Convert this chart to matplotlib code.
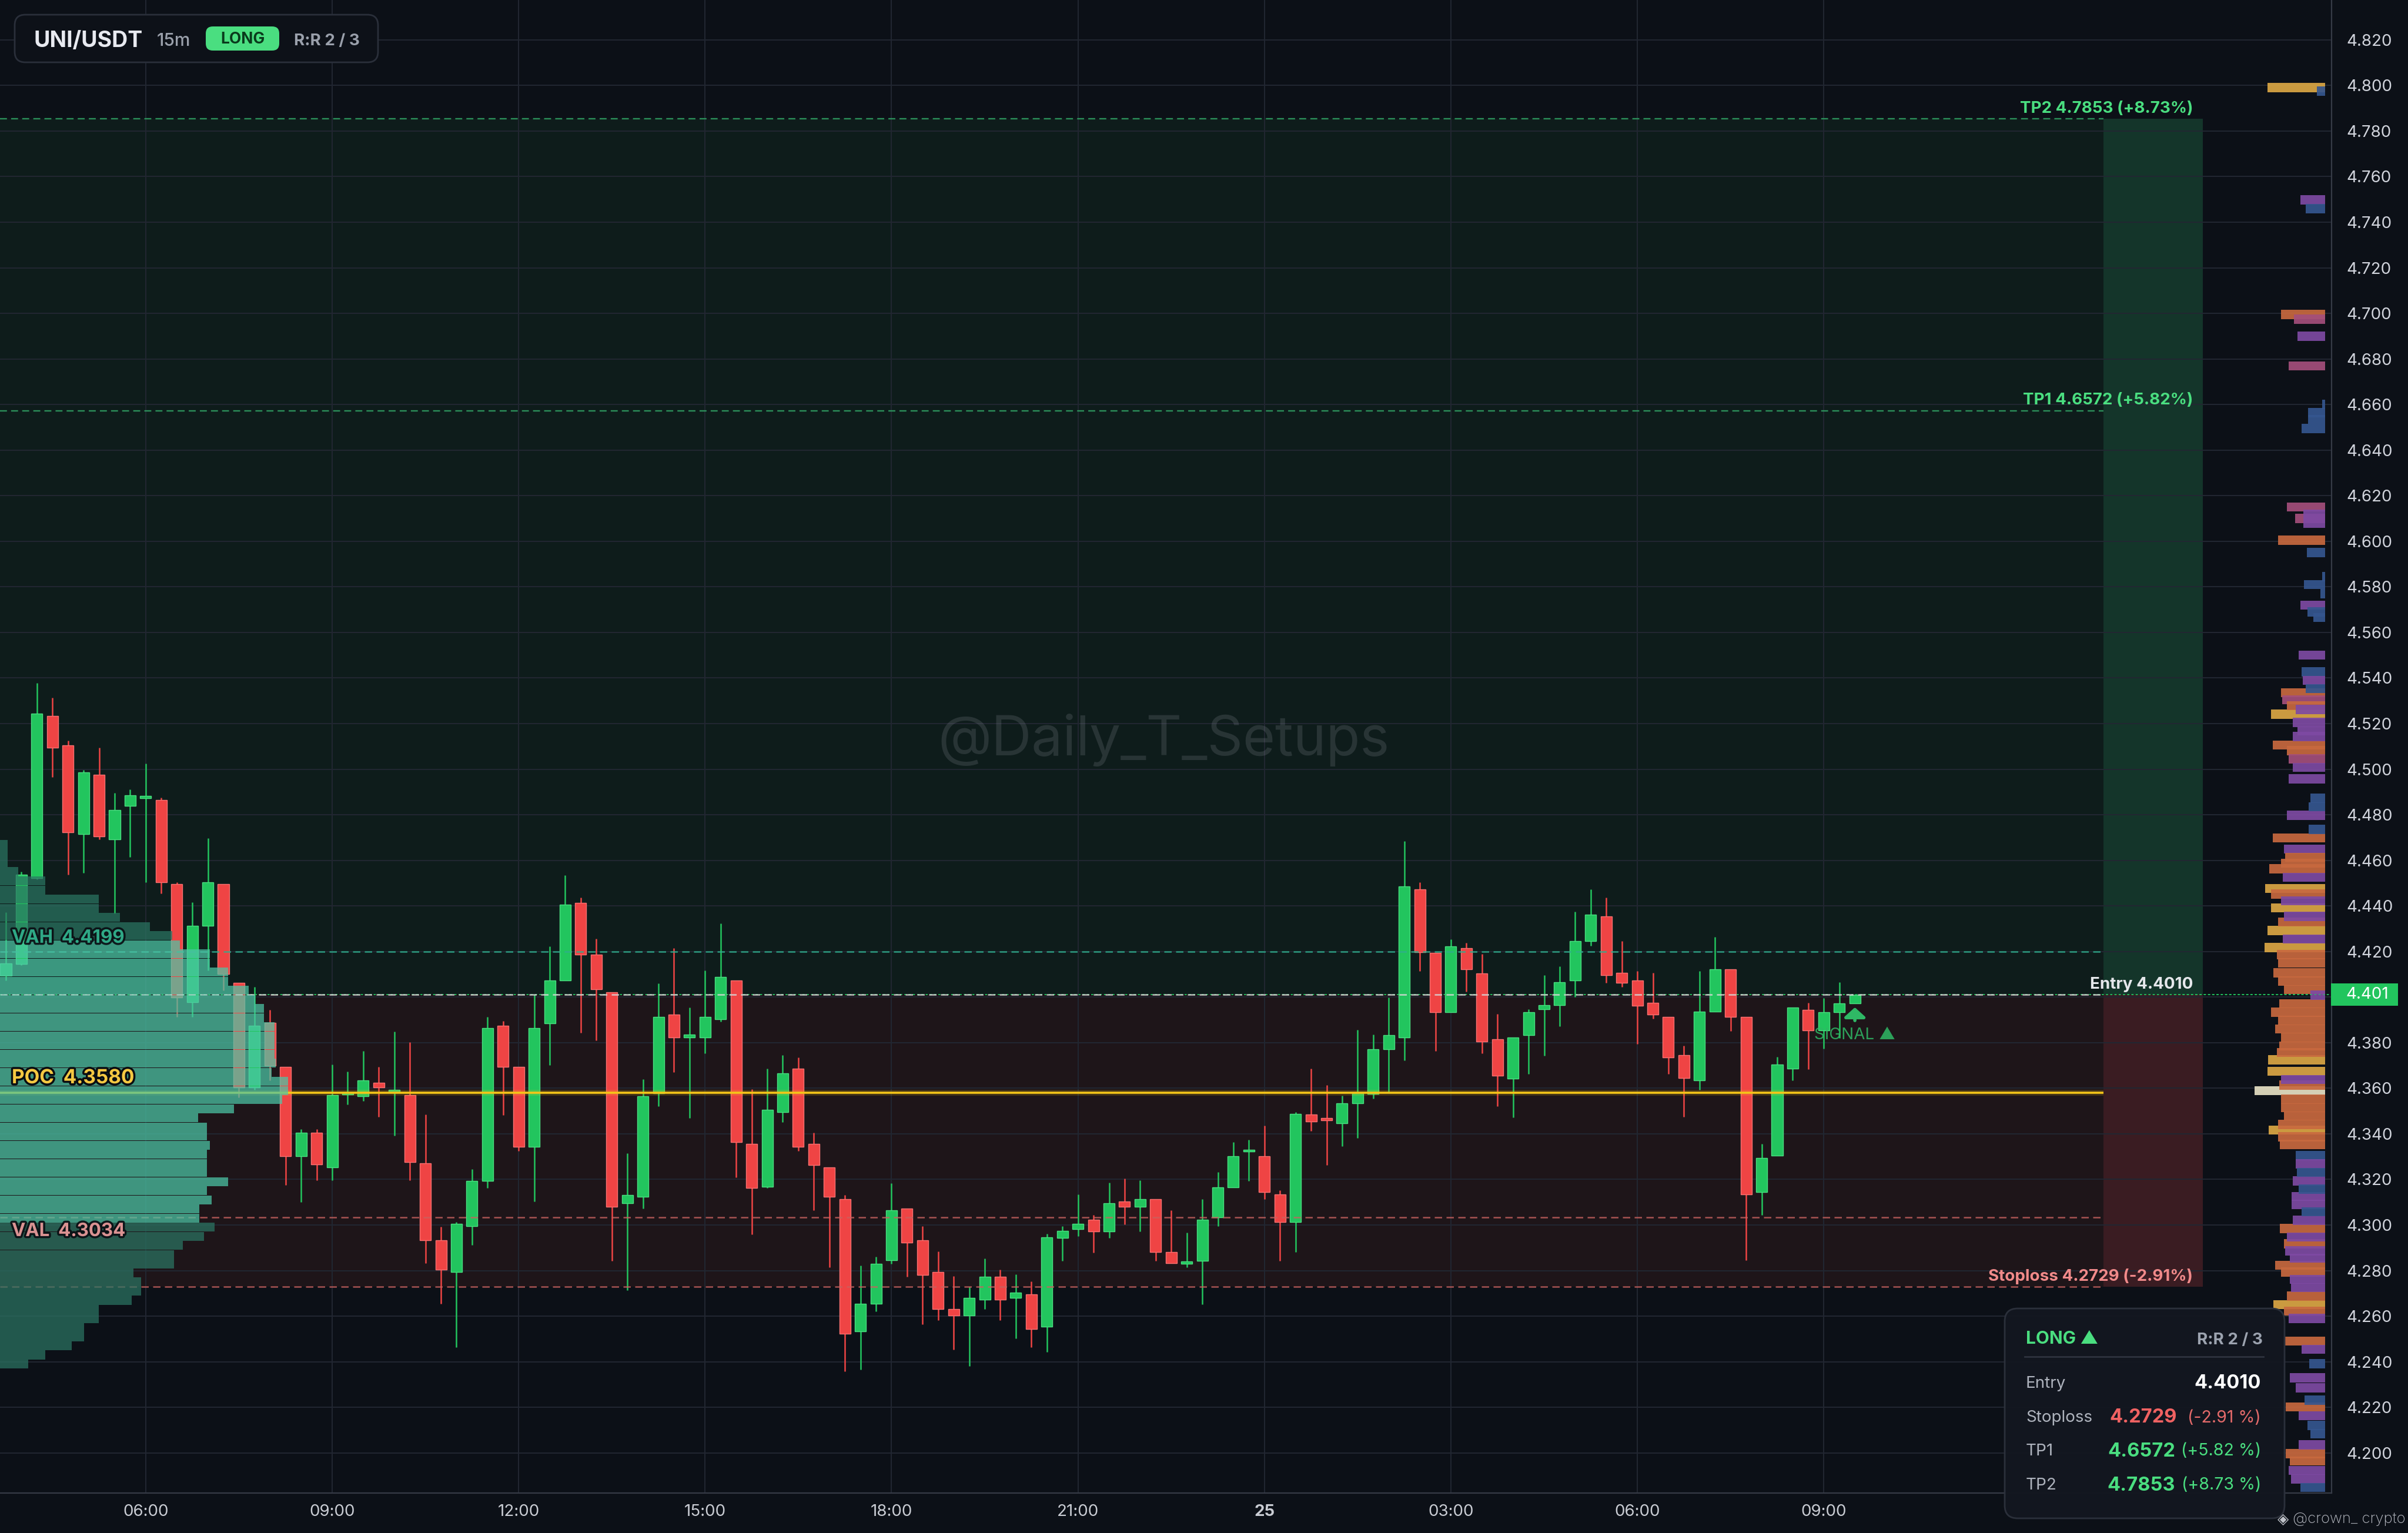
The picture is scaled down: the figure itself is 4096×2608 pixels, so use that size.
import numpy as np
import matplotlib
matplotlib.use('Agg')
import matplotlib.pyplot as plt
from matplotlib.patches import FancyBboxPatch, Rectangle
import matplotlib.patheffects as pe

plt.rcParams['font.family'] = ['Inter', 'DejaVu Sans']

# ---------------- data ----------------
opens = [4.4094, 4.4144, 4.4522, 4.5234, 4.5104, 4.4715, 4.4976, 4.4693, 4.4839, 4.4873,
         4.4864, 4.4497, 4.3977, 4.4313, 4.4497, 4.4062, 4.3603, 4.3887, 4.3695, 4.3303,
         4.3406, 4.3254, 4.3573, 4.3566, 4.3624, 4.3585, 4.3571, 4.3271, 4.2933, 4.2794,
         4.2994, 4.3194, 4.3874, 4.3694, 4.3342, 4.3885, 4.4074, 4.4413, 4.4186, 4.4022,
         4.3095, 4.3124, 4.3577, 4.3924, 4.3822, 4.3822, 4.3902, 4.4074, 4.3355, 4.3167,
         4.3494, 4.3686, 4.3355, 4.3253, 4.3113, 4.2533, 4.2655, 4.2845, 4.3073, 4.2934,
         4.2793, 4.2632, 4.2603, 4.2672, 4.2773, 4.2681, 4.2695, 4.2553, 4.2943, 4.2981,
         4.3023, 4.2971, 4.3104, 4.3081, 4.3113, 4.2882, 4.2831, 4.2843, 4.3033, 4.3164,
         4.3322, 4.3303, 4.3133, 4.3014, 4.3485, 4.3464, 4.3445, 4.3534, 4.3576, 4.3771,
         4.3823, 4.4472, 4.4195, 4.3935, 4.4214, 4.4104, 4.3814, 4.3643, 4.3834, 4.3946,
         4.3964, 4.4073, 4.4245, 4.4354, 4.4106, 4.4073, 4.3974, 4.3913, 4.3746, 4.3635,
         4.3936, 4.4123, 4.3913, 4.3144, 4.3305, 4.3685, 4.3944, 4.3853, 4.3934, 4.3973]
highs = [4.4372, 4.4550, 4.5378, 4.5313, 4.5125, 4.4997, 4.5095, 4.4896, 4.4911, 4.5025,
         4.4875, 4.4505, 4.4415, 4.4698, 4.4497, 4.4062, 4.4045, 4.3945, 4.3695, 4.3421,
         4.3421, 4.3705, 4.3673, 4.3763, 4.3695, 4.3849, 4.3802, 4.3485, 4.2993, 4.3014,
         4.3245, 4.3913, 4.3894, 4.3694, 4.4010, 4.4222, 4.4535, 4.4436, 4.4257, 4.4022,
         4.3314, 4.3639, 4.4061, 4.4214, 4.3955, 4.4116, 4.4324, 4.4074, 4.3596, 4.3686,
         4.3745, 4.3736, 4.3405, 4.3253, 4.3131, 4.2823, 4.2861, 4.3183, 4.3073, 4.2995,
         4.2883, 4.2776, 4.2730, 4.2853, 4.2804, 4.2784, 4.2753, 4.2962, 4.2994, 4.3133,
         4.3044, 4.3185, 4.3204, 4.3196, 4.3113, 4.3064, 4.2966, 4.3113, 4.3233, 4.3363,
         4.3375, 4.3435, 4.3153, 4.3494, 4.3685, 4.3613, 4.3567, 4.3856, 4.3837, 4.3997,
         4.4685, 4.4505, 4.4195, 4.4254, 4.4238, 4.4188, 4.3925, 4.3823, 4.3946, 4.4096,
         4.4135, 4.4374, 4.4474, 4.4437, 4.4245, 4.4115, 4.4106, 4.3913, 4.3787, 4.4115,
         4.4265, 4.4123, 4.3913, 4.3355, 4.3737, 4.3954, 4.3974, 4.3996, 4.4065, 4.4014]
lows = [4.4073, 4.4140, 4.4516, 4.4965, 4.4537, 4.4544, 4.4693, 4.4366, 4.4614, 4.4505,
        4.4454, 4.3913, 4.3913, 4.4116, 4.4030, 4.3560, 4.3592, 4.3635, 4.3175, 4.3100,
        4.3196, 4.3196, 4.3528, 4.3545, 4.3474, 4.3393, 4.3196, 4.2833, 4.2655, 4.2463,
        4.2913, 4.3163, 4.3483, 4.3324, 4.3103, 4.3702, 4.4074, 4.3843, 4.3811, 4.2842,
        4.2714, 4.3072, 4.3522, 4.3671, 4.3470, 4.3753, 4.3892, 4.3209, 4.2959, 4.3163,
        4.3452, 4.3324, 4.3064, 4.2814, 4.2358, 4.2366, 4.2620, 4.2830, 4.2772, 4.2563,
        4.2583, 4.2453, 4.2381, 4.2632, 4.2582, 4.2503, 4.2463, 4.2444, 4.2843, 4.2952,
        4.2879, 4.2943, 4.3003, 4.2971, 4.2843, 4.2833, 4.2814, 4.2652, 4.2995, 4.3164,
        4.3194, 4.3113, 4.2843, 4.2882, 4.3413, 4.3264, 4.3346, 4.3383, 4.3554, 4.3580,
        4.3722, 4.4113, 4.3764, 4.3935, 4.4024, 4.3754, 4.3521, 4.3472, 4.3662, 4.3744,
        4.3872, 4.4000, 4.4224, 4.4063, 4.4044, 4.3795, 4.3905, 4.3664, 4.3474, 4.3594,
        4.3936, 4.3852, 4.2845, 4.3044, 4.3305, 4.3634, 4.3683, 4.3773, 4.3821, 4.3973]
closes = [4.4148, 4.4537, 4.5245, 4.5095, 4.4723, 4.4986, 4.4704, 4.4822, 4.4886, 4.4875,
          4.4505, 4.3998, 4.4313, 4.4505, 4.4101, 4.3603, 4.3874, 4.3699, 4.3303, 4.3406,
          4.3265, 4.3571, 4.3578, 4.3635, 4.3603, 4.3586, 4.3275, 4.2933, 4.2805, 4.3004,
          4.3194, 4.3863, 4.3694, 4.3342, 4.3863, 4.4074, 4.4405, 4.4186, 4.4035, 4.3081,
          4.3131, 4.3564, 4.3913, 4.3822, 4.3835, 4.3913, 4.4088, 4.3363, 4.3163, 4.3506,
          4.3666, 4.3342, 4.3264, 4.3124, 4.2522, 4.2655, 4.2831, 4.3064, 4.2924, 4.2782,
          4.2632, 4.2603, 4.2681, 4.2773, 4.2672, 4.2703, 4.2543, 4.2945, 4.2974, 4.3004,
          4.2971, 4.3096, 4.3081, 4.3113, 4.2882, 4.2833, 4.2836, 4.3023, 4.3164, 4.3303,
          4.3323, 4.3144, 4.3014, 4.3488, 4.3455, 4.3460, 4.3534, 4.3584, 4.3771, 4.3834,
          4.4485, 4.4196, 4.3935, 4.4222, 4.4122, 4.3804, 4.3655, 4.3823, 4.3934, 4.3964,
          4.4064, 4.4245, 4.4363, 4.4095, 4.4063, 4.3963, 4.3923, 4.3735, 4.3645, 4.3936,
          4.4123, 4.3913, 4.3133, 4.3295, 4.3704, 4.3954, 4.3853, 4.3935, 4.3973, 4.4008]

time_tick_idx = [9, 21, 33, 45, 57, 69, 81, 93, 105, 117]
time_tick_labels = ['06:00', '09:00', '12:00', '15:00', '18:00', '21:00', '25', '03:00', '06:00', '09:00']
price_ticks = [4.200, 4.220, 4.240, 4.260, 4.280, 4.300, 4.320, 4.340, 4.360, 4.380, 4.400,
               4.420, 4.440, 4.460, 4.480, 4.500, 4.520, 4.540, 4.560, 4.580, 4.600, 4.620,
               4.640, 4.660, 4.680, 4.700, 4.720, 4.740, 4.760, 4.780, 4.800, 4.820]

entry = 4.4010
stoploss = 4.2729
tp1 = 4.6572
tp2 = 4.7853
vah = 4.4199
poc = 4.3580
val = 4.3034
last_price = 4.401

# left (session) volume profile
lp_prices = [4.467, 4.463, 4.459, 4.455, 4.451, 4.447, 4.443, 4.439, 4.435, 4.431, 4.427, 4.423,
             4.419, 4.415, 4.411, 4.407, 4.403, 4.399, 4.395, 4.391, 4.387, 4.383, 4.379, 4.375,
             4.371, 4.367, 4.363, 4.359, 4.355, 4.351, 4.347, 4.343, 4.339, 4.335, 4.331, 4.327,
             4.323, 4.319, 4.315, 4.311, 4.307, 4.303, 4.299, 4.295, 4.291, 4.287, 4.283, 4.279,
             4.275, 4.271, 4.267, 4.263, 4.259, 4.255, 4.251, 4.247, 4.243, 4.239]
lp_vol = [13, 13, 13, 31, 77, 77, 168, 168, 204, 255, 293, 306,
          357, 357, 388, 388, 423, 434, 449, 449, 467, 467, 467, 467,
          469, 462, 490, 490, 480, 398, 337, 352, 352, 357, 352, 352,
          352, 388, 352, 360, 339, 339, 365, 347, 311, 296, 296, 227,
          240, 240, 224, 168, 168, 143, 143, 122, 77, 48]

# right (visible range) volume profile
rp_prices = [4.7991, 4.7975, 4.7498, 4.7459, 4.6995, 4.6975, 4.6900, 4.6770, 4.6600, 4.6565,
             4.6535, 4.6495, 4.6150, 4.6120, 4.6100, 4.6080, 4.6005, 4.5950, 4.5845, 4.5810,
             4.5770, 4.5720, 4.5690, 4.5665, 4.5500, 4.5427, 4.5390, 4.5353, 4.5336, 4.5304,
             4.5279, 4.5262, 4.5242, 4.5205, 4.5168, 4.5143, 4.5106, 4.5082, 4.5045, 4.5008,
             4.4958, 4.4872, 4.4835, 4.4798, 4.4736, 4.4699, 4.4650, 4.4613, 4.4588, 4.4563,
             4.4526, 4.4477, 4.4452, 4.4423, 4.4391, 4.4354, 4.4329, 4.4292, 4.4255, 4.4218,
             4.4186, 4.4151, 4.4107, 4.4070, 4.4033, 4.4008, 4.3971, 4.3934, 4.3897, 4.3860,
             4.3823, 4.3786, 4.3757, 4.3725, 4.3675, 4.3638, 4.3614, 4.3589, 4.3552, 4.3515,
             4.3478, 4.3441, 4.3416, 4.3387, 4.3354, 4.3305, 4.3268, 4.3231, 4.3194, 4.3157,
             4.3125, 4.3090, 4.3058, 4.3021, 4.2984, 4.2947, 4.2918, 4.2886, 4.2854, 4.2824,
             4.2794, 4.2762, 4.2725, 4.2688, 4.2651, 4.2622, 4.2590, 4.2491, 4.2454, 4.2392,
             4.2330, 4.2286, 4.2232, 4.2202, 4.2163, 4.2121, 4.2084, 4.2035, 4.1997, 4.1965,
             4.1923, 4.1886, 4.1849]
rp_vol = [98, 14, 42, 33, 75, 53, 47, 62, 5, 29,
          29, 40, 65, 37, 51, 37, 80, 31, 5, 36,
          8, 42, 30, 20, 45, 40, 38, 33, 75, 73,
          65, 50, 92, 55, 47, 55, 89, 65, 62, 55,
          62, 25, 28, 65, 28, 89, 70, 68, 75, 95,
          72, 102, 92, 75, 92, 70, 80, 98, 72, 103,
          82, 80, 88, 80, 70, 25, 78, 92, 80, 85,
          75, 78, 82, 97, 98, 75, 78, 120, 75, 75,
          70, 80, 96, 80, 77, 50, 50, 48, 55, 45,
          57, 57, 40, 55, 77, 65, 70, 68, 60, 85,
          75, 60, 58, 65, 88, 70, 62, 68, 40, 27,
          60, 50, 35, 67, 45, 30, 25, 45, 67, 60,
          62, 58, 42]
rp_kind = ['Y', 'B', 'P', 'B', 'O', 'M', 'P', 'M', 'B', 'B',
           'B', 'B', 'M', 'P', 'M', 'P', 'O', 'B', 'B', 'B',
           'B', 'P', 'B', 'B', 'P', 'B', 'P', 'B', 'O', 'M',
           'O', 'P', 'Y', 'P', 'P', 'P', 'O', 'O', 'M', 'P',
           'P', 'B', 'B', 'P', 'B', 'O', 'P', 'O', 'O', 'O',
           'P', 'Y', 'O', 'P', 'Y', 'P', 'O', 'Y', 'P', 'Y',
           'O', 'O', 'O', 'O', 'O', 'P', 'O', 'O', 'O', 'O',
           'O', 'O', 'O', 'Y', 'Y', 'P', 'O', 'W', 'O', 'O',
           'O', 'O', 'Y', 'O', 'O', 'B', 'P', 'B', 'P', 'B',
           'P', 'P', 'B', 'P', 'O', 'P', 'O', 'P', 'P', 'O',
           'O', 'P', 'P', 'O', 'Y', 'O', 'P', 'O', 'P', 'B',
           'P', 'P', 'B', 'O', 'P', 'B', 'B', 'P', 'O', 'O',
           'P', 'P', 'B']

# ---------------- style ----------------
BG = '#0c1017'
GREEN_ZONE = '#0e1c1b'
RED_ZONE = '#1e1519'
GREEN_BLOCK = '#14352a'
RED_BLOCK = '#3a1c22'
GRID = '#222732'
UP = '#22c55e'
UP_EDGE = '#4ade80'
DN = '#ef4444'
DN_EDGE = '#f87171'
kind_colors = {'O': '#c8693f', 'Y': '#dba744', 'P': '#7e4aa3', 'B': '#35568f',
               'M': '#a44f7c', 'W': '#e6e1c4'}

W, H = 4096, 2608
DPI = 100
fig = plt.figure(figsize=(W / DPI, H / DPI), dpi=DPI)
fig.patch.set_facecolor(BG)

ax_r = 3966 / W
ax_b = (H - 2540) / H
rect = [0, ax_b, ax_r, 1 - ax_b]
ax = fig.add_axes(rect)
ax.set_facecolor(BG)
x_min, x_max = -0.378, 149.68
y_min, y_max = 4.1824, 4.8375
ax.set_xlim(x_min, x_max)
ax.set_ylim(y_min, y_max)

block_start, block_end = 135.0, 141.4

# zones
ax.add_patch(Rectangle((x_min, entry), block_start - x_min, tp2 - entry, fc=GREEN_ZONE, ec='none', zorder=1))
ax.add_patch(Rectangle((x_min, stoploss), block_start - x_min, entry - stoploss, fc=RED_ZONE, ec='none', zorder=1))
ax.add_patch(Rectangle((block_start, entry), block_end - block_start, tp2 - entry, fc=GREEN_BLOCK, ec='none', zorder=1))
ax.add_patch(Rectangle((block_start, stoploss), block_end - block_start, entry - stoploss, fc=RED_BLOCK, ec='none', zorder=1))

# grid + axes
ax.set_yticks(price_ticks)
ax.set_yticklabels([f'{p:.3f}' for p in price_ticks])
ax.set_xticks(time_tick_idx)
ax.set_xticklabels(time_tick_labels)
ax.yaxis.tick_right()
ax.grid(True, color=GRID, lw=1.4)
ax.set_axisbelow('line')
ax.tick_params(axis='y', length=0, pad=18, labelsize=20, labelcolor='#d1d4dc')
ax.tick_params(axis='x', length=0, pad=14, labelsize=20, labelcolor='#c9ccd3')
for lbl in ax.get_xticklabels():
    if lbl.get_text() == '25':
        lbl.set_fontweight('bold')
for s in ['top', 'left']:
    ax.spines[s].set_visible(False)
for s in ['right', 'bottom']:
    ax.spines[s].set_color('#363b46')
    ax.spines[s].set_linewidth(1.6)

# last price dotted line
ax.hlines(last_price, x_min, x_max, colors='#22c55e', lw=1.3, linestyles=(0, (2, 2)), zorder=2)

# candles
idx = np.arange(len(opens))
o = np.array(opens); h = np.array(highs); l = np.array(lows); c = np.array(closes)
up = c >= o
fc = np.where(up, UP, DN)
ec = np.where(up, UP_EDGE, DN_EDGE)
ax.vlines(idx, l, h, colors=fc, lw=1.8, zorder=4)
body_bot = np.minimum(o, c)
body_h = np.maximum(np.abs(c - o), 0.0009)
ax.bar(idx, body_h, bottom=body_bot, width=0.72, color=fc, edgecolor=ec, linewidth=1.0, zorder=5)

# level lines
dash = (0, (5, 3))
ax.hlines(tp2, x_min, block_start, colors='#2f9e62', lw=1.7, linestyles=dash, zorder=6, alpha=0.9)
ax.hlines(tp1, x_min, block_start, colors='#2f9e62', lw=1.7, linestyles=dash, zorder=6, alpha=0.9)
ax.hlines(vah, x_min, block_start, colors='#2fae8e', lw=1.8, linestyles=dash, zorder=6, alpha=0.85)
ax.hlines(entry, x_min, block_start, colors='#d8d8d8', lw=1.8, linestyles=dash, zorder=6, alpha=0.85)
ax.hlines(val, x_min, block_start, colors='#c8625f', lw=1.8, linestyles=dash, zorder=6, alpha=0.8)
ax.hlines(stoploss, x_min, block_start, colors='#c8625f', lw=1.8, linestyles=dash, zorder=6, alpha=0.8)
ax.hlines(poc, x_min, block_start, colors='#f5c518', lw=7, zorder=6, alpha=0.18)
ax.hlines(poc, x_min, block_start, colors='#f5c518', lw=2.6, zorder=6)

# line labels
lab_x = 140.75
off = 0.0046
ax.text(lab_x, tp2 + off, f'TP2 {tp2:.4f} (+8.73%)', ha='right', va='center', fontsize=20,
        fontweight='bold', color='#4ade80', zorder=8)
ax.text(lab_x, tp1 + off, f'TP1 {tp1:.4f} (+5.82%)', ha='right', va='center', fontsize=20,
        fontweight='bold', color='#4ade80', zorder=8)
ax.text(lab_x, entry + off, f'Entry {entry:.4f}', ha='right', va='center', fontsize=20,
        fontweight='bold', color='#e5e7eb', zorder=8)
ax.text(lab_x, stoploss + off, f'Stoploss {stoploss:.4f} (-2.91%)', ha='right', va='center',
        fontsize=20, fontweight='bold', color='#f08a8a', zorder=8)

# watermark
ax.text(74.5, 4.5128, '@Daily_T_Setups', ha='center', va='center', fontsize=68,
        color='#a0a6b0', alpha=0.18, zorder=3)

# signal
ax.text(116.4, 4.3833, 'SIGNAL ▲', ha='left', va='center', fontsize=20, color='#2fb865',
        alpha=0.85, zorder=8)
ax.annotate('', xy=(119, 4.3962), xytext=(119, 4.3890),
            arrowprops=dict(arrowstyle='-|>,head_width=0.5,head_length=0.45', color='#2fb865',
                            lw=4, mutation_scale=22), zorder=8)

# current price tag
ax.add_patch(Rectangle((149.64, last_price - 0.0049), 4.3, 0.0098, fc='#22c55e', ec='none',
                       clip_on=False, zorder=20))
ax.text(150.62, last_price, f'{last_price:.3f}', ha='left', va='center', fontsize=20,
        color='#ffffff', clip_on=False, zorder=21)

# ---------------- left volume profile ----------------
axL = fig.add_axes(rect)
axL.set_xlim(0, 3966)
axL.set_ylim(y_min, y_max)
axL.axis('off')
lp_p = np.array(lp_prices)
in_va = (lp_p >= val - 0.001) & (lp_p <= vah + 0.004)
lp_col = np.where(in_va, '#4dc7a7', '#2b7563')
axL.barh(lp_p, lp_vol, height=0.0039, left=0, color=lp_col, alpha=0.72, edgecolor='none')

stroke = [pe.withStroke(linewidth=5, foreground='#0a0d12')]
axL.text(20, 4.4259, f'VAH  {vah:.4f}', ha='left', va='center', fontsize=22.5, fontweight='bold',
         color='#33b892', alpha=0.9, path_effects=stroke)
axL.text(20, 4.3645, f'POC  {poc:.4f}', ha='left', va='center', fontsize=24, fontweight='bold',
         color='#f5c842', path_effects=stroke)
axL.text(20, 4.2972, f'VAL  {val:.4f}', ha='left', va='center', fontsize=22.5, fontweight='bold',
         color='#f0a0a0', alpha=0.9, path_effects=stroke)

# ---------------- right volume profile ----------------
axR = fig.add_axes([3700 / W, ax_b, 255 / W, 1 - ax_b])
axR.set_xlim(255, 0)
axR.set_ylim(y_min, y_max)
axR.axis('off')
order = np.argsort(rp_vol)[::-1]
rp_p_arr = np.array(rp_prices)[order]
rp_v_arr = np.array(rp_vol)[order]
rp_c_arr = [kind_colors[rp_kind[i]] for i in order]
axR.barh(rp_p_arr, rp_v_arr, height=0.0040, left=0, color=rp_c_arr, alpha=0.92, edgecolor='none')
axR.hlines(last_price, 0, 255, colors='#22c55e', lw=1.3, linestyles=(0, (2, 2)), alpha=0.6)

# ---------------- overlay (header, info box) ----------------
ov = fig.add_axes([0, 0, 1, 1])
ov.set_xlim(0, W)
ov.set_ylim(H, 0)
ov.axis('off')
ov.patch.set_alpha(0)

ov.add_patch(FancyBboxPatch((25, 25), 618, 81, boxstyle='round,pad=0,rounding_size=18',
                            fc='#0d1118', ec='#2a2f3a', lw=2))
ov.text(57, 70, 'UNI/USDT', ha='left', va='center', fontsize=27, fontweight='bold', color='#e8eaf0')
ov.text(267, 70, '15m', ha='left', va='center', fontsize=21.5, color='#9aa0ab', fontweight='medium')
ov.add_patch(FancyBboxPatch((350, 45), 125, 41, boxstyle='round,pad=0,rounding_size=12',
                            fc='#4ade80', ec='none'))
ov.text(412.5, 67, 'LONG', ha='center', va='center', fontsize=19, fontweight='bold', color='#0a3a1c')
ov.text(500, 70, 'R:R 2 / 3', ha='left', va='center', fontsize=20, fontweight='bold', color='#9aa0ab')

# info box
ov.add_patch(FancyBboxPatch((3410, 2226), 476, 357, boxstyle='round,pad=0,rounding_size=22',
                            fc='#131720', ec='#2c313c', lw=2, alpha=0.97))
ov.text(3446, 2278, 'LONG ▲', ha='left', va='center', fontsize=21.5, fontweight='bold', color='#4ade80')
ov.text(3849, 2280, 'R:R 2 / 3', ha='right', va='center', fontsize=20, fontweight='bold', color='#9ca3af')
ov.plot([3444, 3850], [2308, 2308], color='#2e333e', lw=2)
rows_y = [2354, 2412, 2469, 2527]
ov.text(3446, rows_y[0], 'Entry', ha='left', va='center', fontsize=20, color='#aeb3bd')
ov.text(3846, rows_y[0], f'{entry:.4f}', ha='right', va='center', fontsize=23.5, fontweight='bold', color='#ffffff')
ov.text(3446, rows_y[1], 'Stoploss', ha='left', va='center', fontsize=20, color='#aeb3bd')
ov.text(3703, rows_y[1], f'{stoploss:.4f}', ha='right', va='center', fontsize=23.5, fontweight='bold', color='#f06262')
ov.text(3846, rows_y[1], '(-2.91 %)', ha='right', va='center', fontsize=20.5, color='#e46a6a')
ov.text(3446, rows_y[2], 'TP1', ha='left', va='center', fontsize=20, color='#aeb3bd')
ov.text(3700, rows_y[2], f'{tp1:.4f}', ha='right', va='center', fontsize=23.5, fontweight='bold', color='#4ade80')
ov.text(3846, rows_y[2], '(+5.82 %)', ha='right', va='center', fontsize=20.5, color='#4ade80')
ov.text(3446, rows_y[3], 'TP2', ha='left', va='center', fontsize=20, color='#aeb3bd')
ov.text(3700, rows_y[3], f'{tp2:.4f}', ha='right', va='center', fontsize=23.5, fontweight='bold', color='#4ade80')
ov.text(3846, rows_y[3], '(+8.73 %)', ha='right', va='center', fontsize=20.5, color='#4ade80')

# bottom-right credit
ov.text(3884, 2585, '◈', ha='center', va='center', fontsize=18, color='#c0c3ca', family=['DejaVu Sans'])
ov.text(3900, 2585, '@crown_ crypto', ha='left', va='center', fontsize=18.5, color='#b5b8c0',
        fontweight='light')

fig.savefig('out.png', dpi=DPI, facecolor=BG)
